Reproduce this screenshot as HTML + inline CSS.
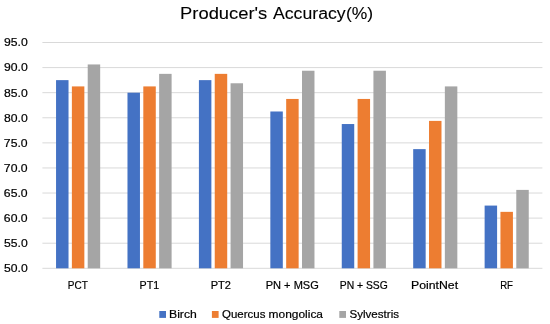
<!DOCTYPE html>
<html lang="en">
<head>
<meta charset="utf-8">
<title>Producer's Accuracy(%)</title>
<style>
html,body{margin:0;padding:0;background:#fff;}
body{width:550px;height:324px;overflow:hidden;}
svg{display:block;}
text{font-family:"Liberation Sans",sans-serif;fill:#000;stroke:#000;stroke-width:0.2px;}
.t{font-size:17.3px;stroke-width:0.1px;}
.a{font-size:11.5px;}
.l{font-size:11.5px;}
</style>
</head>
<body>
<svg width="550" height="324" viewBox="0 0 550 324">
<rect x="0" y="0" width="550" height="324" fill="#fff"/>
<g stroke="#D9D9D9" stroke-width="1" fill="none">
<line x1="42.40" y1="268.30" x2="542.40" y2="268.30"/>
<line x1="42.40" y1="243.21" x2="542.40" y2="243.21"/>
<line x1="42.40" y1="218.12" x2="542.40" y2="218.12"/>
<line x1="42.40" y1="193.03" x2="542.40" y2="193.03"/>
<line x1="42.40" y1="167.94" x2="542.40" y2="167.94"/>
<line x1="42.40" y1="142.86" x2="542.40" y2="142.86"/>
<line x1="42.40" y1="117.77" x2="542.40" y2="117.77"/>
<line x1="42.40" y1="92.68" x2="542.40" y2="92.68"/>
<line x1="42.40" y1="67.59" x2="542.40" y2="67.59"/>
<line x1="42.40" y1="42.50" x2="542.40" y2="42.50"/>
</g>
<rect x="56.05" y="80.13" width="12.47" height="188.17" fill="#4472C4"/>
<rect x="71.88" y="86.41" width="12.47" height="181.89" fill="#ED7D31"/>
<rect x="87.71" y="64.45" width="12.47" height="203.85" fill="#A5A5A5"/>
<rect x="127.48" y="92.68" width="12.47" height="175.62" fill="#4472C4"/>
<rect x="143.31" y="86.41" width="12.47" height="181.89" fill="#ED7D31"/>
<rect x="159.14" y="73.86" width="12.47" height="194.44" fill="#A5A5A5"/>
<rect x="198.91" y="80.13" width="12.47" height="188.17" fill="#4472C4"/>
<rect x="214.74" y="73.86" width="12.47" height="194.44" fill="#ED7D31"/>
<rect x="230.57" y="83.27" width="12.47" height="185.03" fill="#A5A5A5"/>
<rect x="270.34" y="111.49" width="12.47" height="156.81" fill="#4472C4"/>
<rect x="286.17" y="98.95" width="12.47" height="169.35" fill="#ED7D31"/>
<rect x="302.00" y="70.73" width="12.47" height="197.57" fill="#A5A5A5"/>
<rect x="341.76" y="124.04" width="12.47" height="144.26" fill="#4472C4"/>
<rect x="357.60" y="98.95" width="12.47" height="169.35" fill="#ED7D31"/>
<rect x="373.43" y="70.73" width="12.47" height="197.57" fill="#A5A5A5"/>
<rect x="413.19" y="149.13" width="12.47" height="119.17" fill="#4472C4"/>
<rect x="429.02" y="120.90" width="12.47" height="147.40" fill="#ED7D31"/>
<rect x="444.86" y="86.41" width="12.47" height="181.89" fill="#A5A5A5"/>
<rect x="484.62" y="205.58" width="12.47" height="62.72" fill="#4472C4"/>
<rect x="500.45" y="211.85" width="12.47" height="56.45" fill="#ED7D31"/>
<rect x="516.28" y="189.90" width="12.47" height="78.40" fill="#A5A5A5"/>
<text class="t" y="18.5"><tspan x="180.09" textLength="87.17" lengthAdjust="spacingAndGlyphs">Producer's</tspan> <tspan x="272.97" textLength="72.67" lengthAdjust="spacingAndGlyphs">Accuracy</tspan><tspan x="345.92" textLength="27.17" lengthAdjust="spacingAndGlyphs">(%)</tspan></text>
<text class="a" x="4.01" y="272.20" textLength="23.66" lengthAdjust="spacingAndGlyphs">50.0</text>
<text class="a" x="4.01" y="247.11" textLength="23.66" lengthAdjust="spacingAndGlyphs">55.0</text>
<text class="a" x="3.88" y="222.02" textLength="23.80" lengthAdjust="spacingAndGlyphs">60.0</text>
<text class="a" x="3.88" y="196.93" textLength="23.80" lengthAdjust="spacingAndGlyphs">65.0</text>
<text class="a" x="3.87" y="171.84" textLength="23.80" lengthAdjust="spacingAndGlyphs">70.0</text>
<text class="a" x="3.87" y="146.76" textLength="23.80" lengthAdjust="spacingAndGlyphs">75.0</text>
<text class="a" x="3.97" y="121.67" textLength="23.71" lengthAdjust="spacingAndGlyphs">80.0</text>
<text class="a" x="3.97" y="96.58" textLength="23.71" lengthAdjust="spacingAndGlyphs">85.0</text>
<text class="a" x="3.93" y="71.49" textLength="23.75" lengthAdjust="spacingAndGlyphs">90.0</text>
<text class="a" x="3.93" y="46.40" textLength="23.75" lengthAdjust="spacingAndGlyphs">95.0</text>
<text class="a" x="67.78" y="289.00" textLength="20.05" lengthAdjust="spacingAndGlyphs">PCT</text>
<text class="a" x="139.52" y="289.00" textLength="19.60" lengthAdjust="spacingAndGlyphs">PT1</text>
<text class="a" x="210.69" y="289.00" textLength="20.26" lengthAdjust="spacingAndGlyphs">PT2</text>
<text class="a" x="265.69" y="289.00" textLength="53.13" lengthAdjust="spacingAndGlyphs">PN + MSG</text>
<text class="a" x="339.75" y="289.00" textLength="48.02" lengthAdjust="spacingAndGlyphs">PN + SSG</text>
<text class="a" x="410.99" y="289.00" textLength="47.10" lengthAdjust="spacingAndGlyphs">PointNet</text>
<text class="a" x="500.21" y="289.00" textLength="12.77" lengthAdjust="spacingAndGlyphs">RF</text>
<text class="l" x="169.00" y="318.00" textLength="27.79" lengthAdjust="spacingAndGlyphs">Birch</text>
<text class="l" y="318.00"><tspan x="222.06" textLength="43.36" lengthAdjust="spacingAndGlyphs">Quercus</tspan> <tspan x="268.61" textLength="54.39" lengthAdjust="spacingAndGlyphs">mongolica</tspan></text>
<text class="l" x="349.47" y="318.00" textLength="49.54" lengthAdjust="spacingAndGlyphs">Sylvestris</text>
<rect x="159.3" y="311" width="6.7" height="6.9" fill="#4472C4"/>
<rect x="211.9" y="311" width="6.7" height="6.9" fill="#ED7D31"/>
<rect x="339.3" y="311" width="6.7" height="6.9" fill="#A5A5A5"/>
</svg>
</body>
</html>
